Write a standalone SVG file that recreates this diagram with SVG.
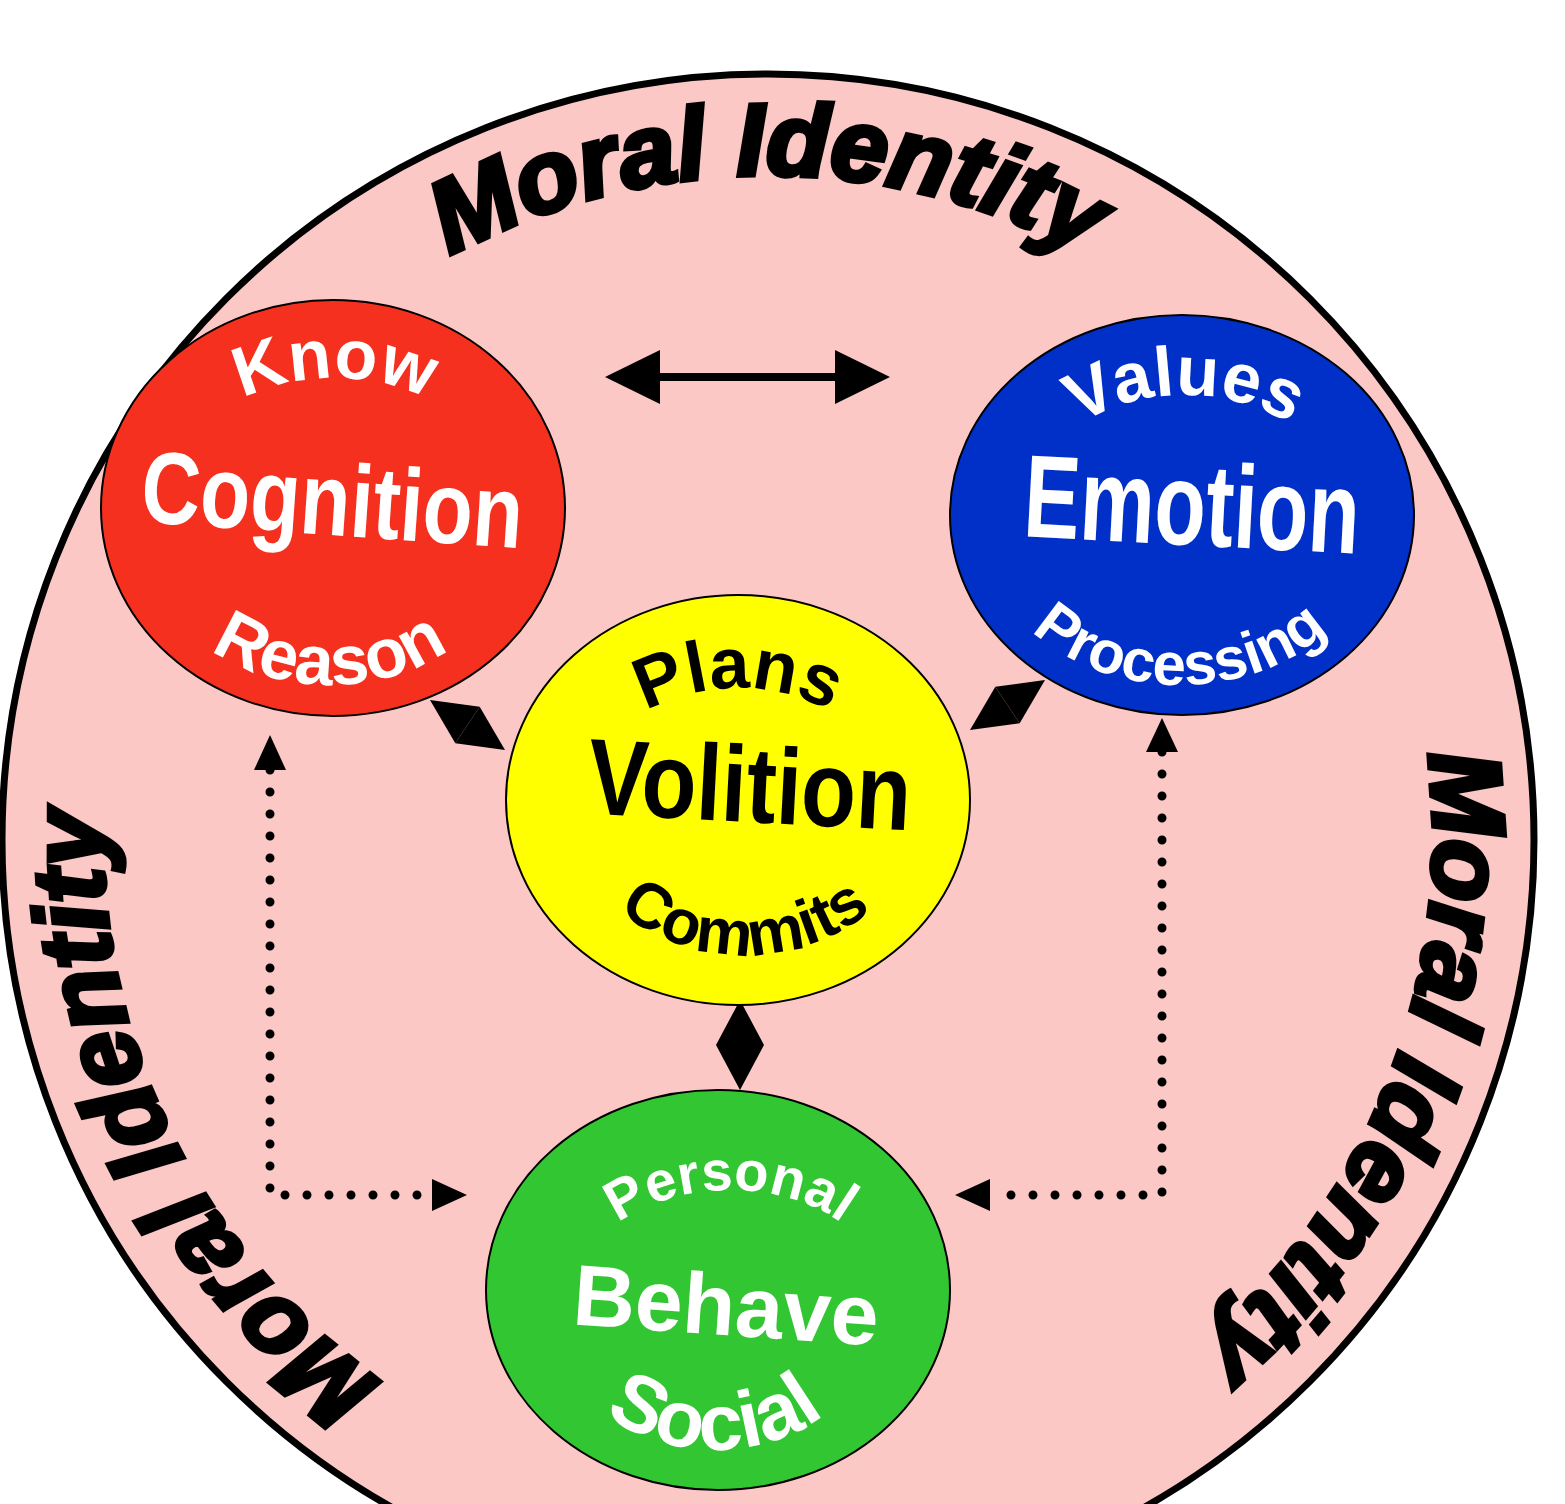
<svg xmlns="http://www.w3.org/2000/svg" width="1565" height="1504" viewBox="0 0 1565 1504">
<style>
.t{font-family:"Liberation Sans",Arial,sans-serif;font-weight:bold}
.mi{font-family:"Liberation Sans",Arial,sans-serif;font-weight:bold;font-style:italic;font-size:102px;fill:#000;stroke:#000;stroke-width:5}
.w{fill:#fff}.k{fill:#000}
.dot{stroke:#000;stroke-width:9;stroke-linecap:round;stroke-dasharray:0 22;fill:none}
</style>
<defs>
<path id="ring" d="M768,1505 A665,665 0 1 1 768,175 A665,665 0 1 1 768,1505"/>
<path id="know" d="M165,508 A170,130 0 0 1 505,508"/>
<path id="reason" d="M160,560 A170,125 0 0 0 500,560"/>
<path id="values" d="M1025,515 A160,120 0 0 1 1345,515"/>
<path id="proc" d="M990,540 A190,145 0 0 0 1370,540"/>
<path id="plans" d="M588,800 A150,112 0 0 1 888,800"/>
<path id="commits" d="M565,800 A180,155 0 0 0 925,800"/>
<path id="personal" d="M580,1290 A150,100 0 0 1 880,1290"/>
<path id="social" d="M545,1300 A170,150 0 0 0 885,1300"/>
</defs>
<rect width="1565" height="1504" fill="#fff"/>
<circle cx="768" cy="840" r="766" fill="#fbc8c6" stroke="#000" stroke-width="7"/>
<g id="labels">
<text class="mi"><textPath href="#ring" startOffset="743" text-anchor="middle">Moral Identity</textPath></text>
<text class="mi"><textPath href="#ring" startOffset="2089" text-anchor="middle">Moral Identity</textPath></text>
<text class="mi"><textPath href="#ring" startOffset="3378" text-anchor="middle">Moral Identity</textPath></text>
</g>
<g id="connectors">
<line x1="650" y1="377" x2="845" y2="377" stroke="#000" stroke-width="8"/>
<polygon points="605,377 660,350 660,404" fill="#000"/>
<polygon points="890,377 835,350 835,404" fill="#000"/>
<polygon points="430,700 455.3,743.3 479.7,706.7" fill="#000"/><polygon points="505,750 455.3,743.3 479.7,706.7" fill="#000"/>
<polygon points="970,730 1019.7,723.3 995.3,686.7" fill="#000"/><polygon points="1045,680 1019.7,723.3 995.3,686.7" fill="#000"/>
<polygon points="740,1000 716,1045 764,1045" fill="#000"/><polygon points="740,1090 716,1045 764,1045" fill="#000"/>
<path class="dot" d="M270,770 L270,1195 L430,1195"/>
<polygon points="270,735 254,770 286,770" fill="#000"/>
<polygon points="467,1195 432,1179 432,1211" fill="#000"/>
<path class="dot" d="M1162,752 L1162,1195 L990,1195"/>
<polygon points="1162,718 1146,752 1178,752" fill="#000"/>
<polygon points="955,1195 990,1179 990,1211" fill="#000"/>
</g>
<g id="cognition">
<ellipse cx="333" cy="508" rx="232" ry="208" fill="#f5301e" stroke="#000" stroke-width="2"/>
<text class="t w" font-size="70"><textPath href="#know" startOffset="50%" text-anchor="middle">Know</textPath></text>
<text class="t w" font-size="82" text-anchor="middle" transform="translate(330,535) rotate(4) scale(1,1.25)">Cognition</text>
<text class="t w" font-size="70"><textPath href="#reason" startOffset="50%" text-anchor="middle">Reason</textPath></text>
</g>
<g id="emotion">
<ellipse cx="1182" cy="515" rx="232" ry="200" fill="#0030c8" stroke="#000" stroke-width="2"/>
<text class="t w" font-size="70"><textPath href="#values" startOffset="50%" text-anchor="middle">Values</textPath></text>
<text class="t w" font-size="84" text-anchor="middle" transform="translate(1190,545) rotate(3) scale(1,1.4)">Emotion</text>
<text class="t w" font-size="60"><textPath href="#proc" startOffset="50%" text-anchor="middle">Processing</textPath></text>
</g>
<g id="volition">
<ellipse cx="738" cy="800" rx="232" ry="205" fill="#ffff00" stroke="#000" stroke-width="2"/>
<text class="t k" font-size="72"><textPath href="#plans" startOffset="50%" text-anchor="middle">Plans</textPath></text>
<text class="t k" font-size="90" text-anchor="middle" transform="translate(748,822) rotate(3) scale(1,1.2)">Volition</text>
<text class="t k" font-size="64"><textPath href="#commits" startOffset="50%" text-anchor="middle">Commits</textPath></text>
</g>
<g id="behave">
<ellipse cx="718" cy="1290" rx="232" ry="200" fill="#33c633" stroke="#000" stroke-width="2"/>
<text class="t w" font-size="56"><textPath href="#personal" startOffset="50%" text-anchor="middle">Personal</textPath></text>
<text class="t w" font-size="86" text-anchor="middle" transform="translate(724,1335) rotate(4)">Behave</text>
<text class="t w" font-size="80"><textPath href="#social" startOffset="50%" text-anchor="middle">Social</textPath></text>
</g>
</svg>
